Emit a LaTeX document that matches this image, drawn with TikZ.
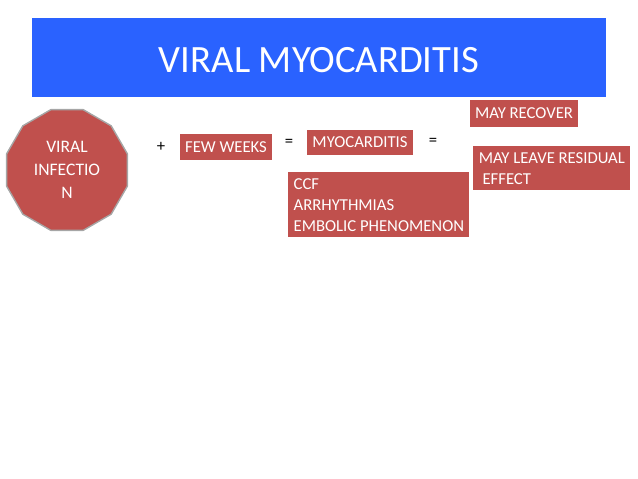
\documentclass[tikz,border=0pt]{standalone}
\usepackage{fontspec}
\setmainfont{Carlito}
\usetikzlibrary{shapes.geometric}
\definecolor{banner}{RGB}{42,98,255}
\definecolor{boxred}{RGB}{192,80,77}
\tikzstyle{redbox} = [fill=boxred,text=white,inner sep=3pt,font=\fontsize{9.5}{12}\selectfont]
\tikzstyle{sign} = [font=\fontsize{9.5}{12}\selectfont]

\begin{document}
\begin{tikzpicture}[x=0.02cm,y=-0.02cm]   % pixel grid, y down

        \useasboundingbox (0,0) rectangle (638,478);

        % Title banner
        \fill[banner] (32,18) rectangle (606,97);
        \node[text=white,font=\fontsize{22}{26}\selectfont] (title) at (319,60) {VIRAL MYOCARDITIS};

        % Virus node
        \node[regular polygon,regular polygon sides=12,minimum size=2.5cm,inner sep=0pt,
              fill=boxred,draw=gray!70,thick,text=white,align=center,
              font=\fontsize{10}{13}\selectfont] (virus) at (67,170) {VIRAL\\INFECTIO\\N};

        % Chain of boxes
        \node[sign] (plus) at (161,147) {+};
        \node[redbox,minimum width=1.84cm,minimum height=0.52cm] (weeks) at (226,147) {FEW WEEKS};
        \node[sign] (eqa) at (289,143) {=};
        \node[redbox,minimum width=2.12cm,minimum height=0.5cm] (myo) at (360,142) {MYOCARDITIS};
        \node[sign] (eqb) at (433,142) {=};

        % Outcomes
        \node[redbox,minimum width=2.14cm,minimum height=0.54cm] (recover) at (524,113) {MAY RECOVER};
        \node[redbox,anchor=north west,minimum width=3.14cm,minimum height=0.88cm,align=left] (residual) at (473,146) {MAY LEAVE RESIDUAL\\\ EFFECT};
        \node[redbox,anchor=north west,minimum width=3.56cm,minimum height=1.3cm,align=left] (compl) at (288,172) {CCF\\ARRHYTHMIAS\\EMBOLIC PHENOMENON};

\end{tikzpicture}
\end{document}
